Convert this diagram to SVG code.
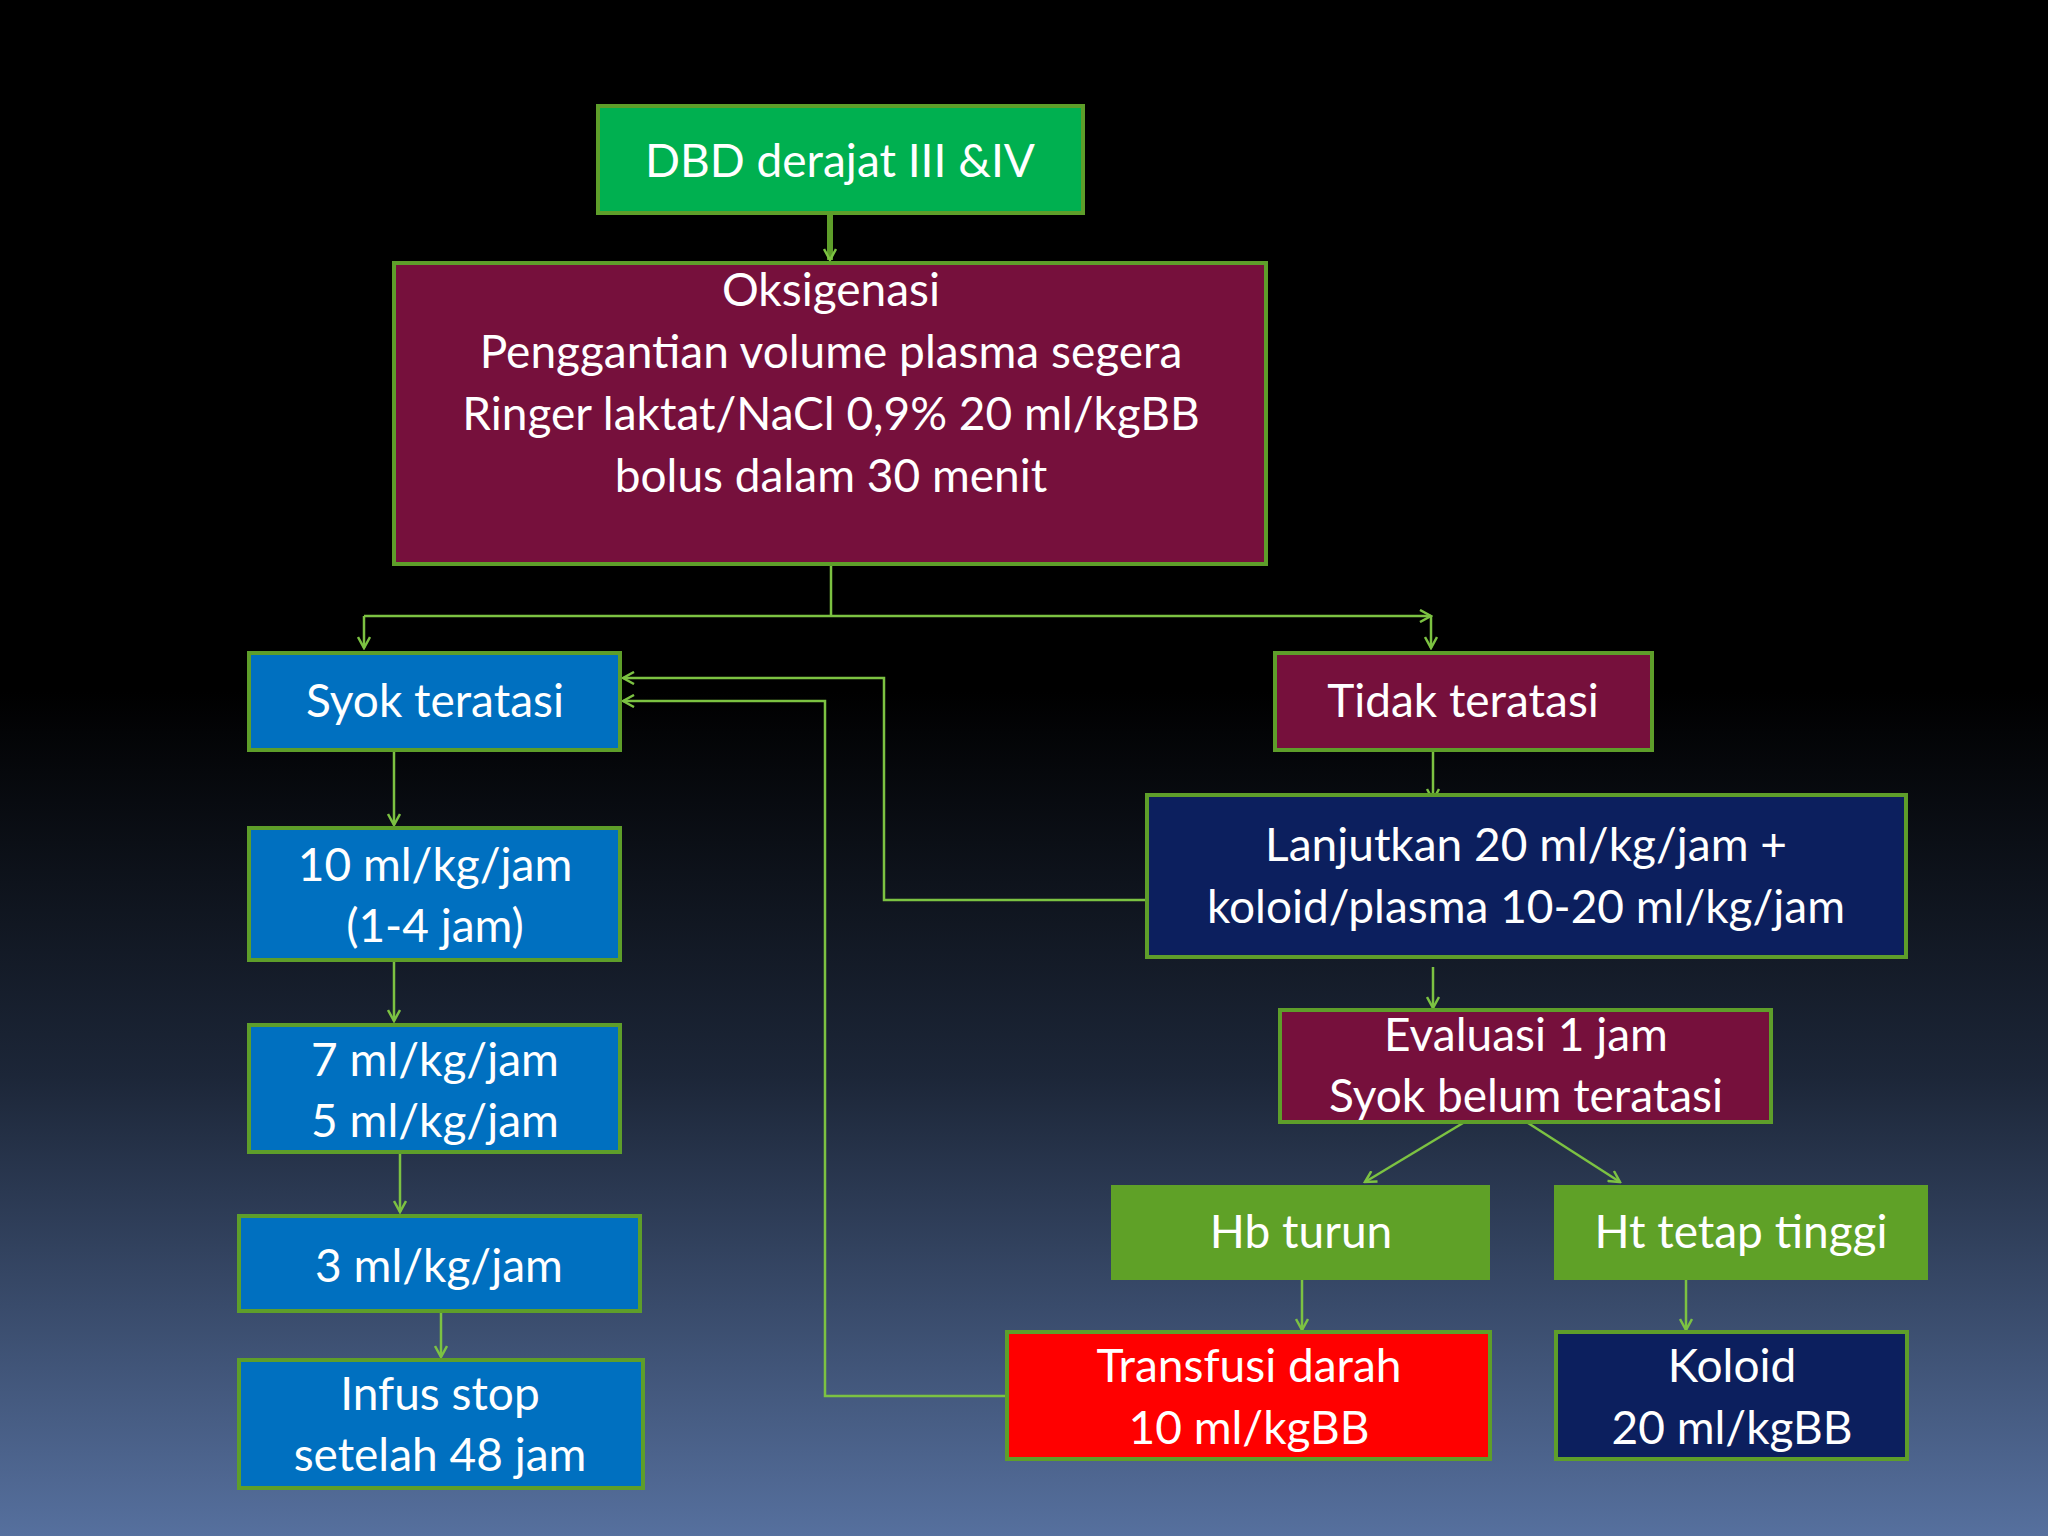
<svg xmlns="http://www.w3.org/2000/svg" width="2048" height="1536" viewBox="0 0 2048 1536">
<defs>
<linearGradient id="bg" x1="0" y1="0" x2="0" y2="1">
<stop offset="0" stop-color="#000"/><stop offset="0.45" stop-color="#000"/><stop offset="0.7" stop-color="#1c2638"/><stop offset="1" stop-color="#56709e"/>
</linearGradient>
<marker id="ah" markerWidth="14" markerHeight="14" refX="12" refY="7" orient="auto" markerUnits="userSpaceOnUse"><path d="M1,1 L12,7 L1,13" fill="none" stroke="#7cc242" stroke-width="2.5"/></marker>
</defs>
<style>
.b{stroke:#5e9e2a;stroke-width:4}
text{font-family:Lato,"Open Sans",sans-serif;font-size:46px;fill:#fff;text-anchor:middle}
.c{fill:none;stroke:#7cc242;stroke-width:2.5;marker-end:url(#ah)}
.n{fill:none;stroke:#7cc242;stroke-width:2.5}
</style>
<rect width="2048" height="1536" fill="url(#bg)"/>
<g id="connectors">
<line x1="830" y1="213" x2="830" y2="260" stroke="#5e9e2a" stroke-width="6" marker-end="url(#ah)"/>
<polyline class="n" points="831,564 831,616"/>
<polyline class="c" points="364,616 1431,616"/>
<path class="c" d="M364,616 V648"/>
<path class="c" d="M1431,616 V648"/>
<path class="c" d="M394,750 V825"/>
<path class="c" d="M394,940 V1021"/>
<path class="c" d="M400,1136 V1212"/>
<path class="c" d="M441,1311 V1357"/>
<path class="c" d="M1433,750 V800"/>
<polyline class="c" points="1147,900 884,900 884,678 623,678"/>
<polyline class="c" points="1007,1396 825,1396 825,701 623,701"/>
<path class="c" d="M1433,967 V1008"/>
<path class="c" d="M1463,1123 L1365,1182"/>
<path class="c" d="M1528,1123 L1620,1182"/>
<path class="c" d="M1302,1280 V1330"/>
<path class="c" d="M1686,1280 V1330"/>
</g>
<g id="dbd"><rect class="b" x="598" y="106" width="485" height="107" fill="#00b050"/><text x="840" y="177">DBD derajat III &amp;IV</text></g>
<g id="oksigenasi"><rect class="b" x="394" y="263" width="872" height="301" fill="#76103c"/>
<text x="831" y="306">Oksigenasi</text><text x="831" y="368">Penggantian volume plasma segera</text><text x="831" y="430">Ringer laktat/NaCl 0,9% 20 ml/kgBB</text><text x="831" y="492">bolus dalam 30 menit</text></g>
<g id="syok"><rect class="b" x="249" y="653" width="371" height="97" fill="#0070c0"/><text x="435" y="717">Syok teratasi</text></g>
<g id="tidak"><rect class="b" x="1275" y="653" width="377" height="97" fill="#76103c"/><text x="1463" y="717">Tidak teratasi</text></g>
<g id="n10"><rect class="b" x="249" y="828" width="371" height="132" fill="#0070c0"/><text x="435" y="881">10 ml/kg/jam</text><text x="435" y="942">(1-4 jam)</text></g>
<g id="n7"><rect class="b" x="249" y="1025" width="371" height="127" fill="#0070c0"/><text x="435" y="1076">7 ml/kg/jam</text><text x="435" y="1137">5 ml/kg/jam</text></g>
<g id="n3"><rect class="b" x="239" y="1216" width="401" height="95" fill="#0070c0"/><text x="439" y="1282">3 ml/kg/jam</text></g>
<g id="infus"><rect class="b" x="239" y="1360" width="404" height="128" fill="#0070c0"/><text x="440" y="1410">Infus stop</text><text x="440" y="1471">setelah 48 jam</text></g>
<g id="lanjut"><rect class="b" x="1147" y="795" width="759" height="162" fill="#0c1f5e"/><text x="1526" y="861">Lanjutkan 20 ml/kg/jam +</text><text x="1526" y="923">koloid/plasma 10-20 ml/kg/jam</text></g>
<g id="eval"><rect class="b" x="1280" y="1010" width="491" height="112" fill="#76103c"/><text x="1526" y="1051">Evaluasi 1 jam</text><text x="1526" y="1112">Syok belum teratasi</text></g>
<g id="hb"><rect x="1111" y="1185" width="379" height="95" fill="#5fa127"/><text x="1301" y="1248">Hb turun</text></g>
<g id="ht"><rect x="1554" y="1185" width="374" height="95" fill="#5fa127"/><text x="1741" y="1248">Ht tetap tinggi</text></g>
<g id="transfusi"><rect class="b" x="1007" y="1332" width="483" height="127" fill="#ff0000"/><text x="1249" y="1382">Transfusi darah</text><text x="1249" y="1444">10 ml/kgBB</text></g>
<g id="koloid"><rect class="b" x="1556" y="1332" width="351" height="127" fill="#0c1f5e"/><text x="1732" y="1382">Koloid</text><text x="1732" y="1444">20 ml/kgBB</text></g>
</svg>
